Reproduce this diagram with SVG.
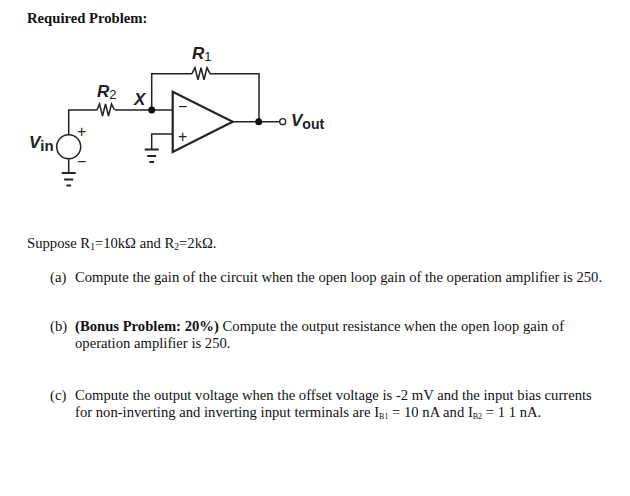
<svg xmlns="http://www.w3.org/2000/svg" width="630" height="496" viewBox="0 0 630 496">
<style>
.t{font-family:"Liberation Serif","Times New Roman",serif;font-size:14.67px;fill:#111}
.b{font-weight:bold}
.s{font-size:9.500px}
.s2{font-size:8px}
.w{fill:none;stroke:#222;stroke-width:1.500}
.o{fill:none;stroke:#222;stroke-width:2.200}
.d{fill:#111}
.l{font-family:"Liberation Sans",Arial,sans-serif;font-size:17px;fill:#222;font-weight:bold}
.i{font-style:italic}
.m{font-family:"Liberation Sans",Arial,sans-serif;font-size:16px;fill:#222}
.g{stroke:#222;stroke-width:2.200;fill:none}
</style>
<defs>
<g id="gnd"><path class="g" d="M-7 0H7M-4.500 6.500H4.500M-2.300 12.500H2.300"/></g>
</defs>
<rect width="630" height="496" fill="#fff"/>
<g id="connectors">
<path class="w" d="M68.700 134.500V110H97M115 110H172.700M151.700 110V73.700H192M210 73.700H259V121.700M232.700 121.700H279.700M172.700 134H151.700V149M68.700 158.700V173"/>
<path class="w" d="M97 110l2.500-6 3 12 3-12 3 12 3-12 3 6"/>
<path class="w" d="M192 73.700l3-6 3 12 3-12 3 12 3-12 3 6"/>
</g>
<g id="opamp"><path class="o" d="M172.700 91.700V152L232.700 121.700Z"/>
<text class="m" x="178" y="112">−</text><text class="m" x="178" y="142">+</text></g>
<g id="node-x"><circle class="d" cx="151.700" cy="110" r="3.500"/><text class="l i" x="134" y="105">X</text></g>
<g id="node-out"><circle class="d" cx="258.700" cy="121.700" r="3.500"/><circle cx="282.700" cy="121.700" r="3" fill="#fff" stroke="#222" stroke-width="1.300"/></g>
<g id="r1"><text class="l i" x="192" y="59">R<tspan font-size="13" dy="2" font-style="normal" font-weight="normal">1</tspan></text></g>
<g id="r2"><text class="l i" x="97" y="97">R<tspan font-size="13" dy="2" font-style="normal" font-weight="normal">2</tspan></text></g>
<g id="vin"><circle cx="68.700" cy="146.700" r="12" fill="none" stroke="#222" stroke-width="1.500"/>
<text class="m" x="77" y="137">+</text><text class="m" x="77" y="167">−</text>
<text class="l i" x="29" y="148">V<tspan font-size="15" font-style="normal" dy="3">in</tspan></text></g>
<g id="gnd1"><use href="#gnd" x="151.700" y="149.500"/></g>
<g id="gnd2"><use href="#gnd" x="68.700" y="173"/></g>
<g id="vout"><text class="l i" x="291" y="126">V<tspan font-size="14" font-style="normal" dy="3">out</tspan></text></g>
<g id="text">
<text class="t b" x="27" y="23">Required Problem:</text>
<text class="t" x="27" y="248">Suppose R<tspan class="s" dy="2">1</tspan><tspan dy="-2">=10kΩ and R</tspan><tspan class="s" dy="2">2</tspan><tspan dy="-2">=2kΩ.</tspan></text>
<text class="t" x="50" y="282">(a)</text>
<text class="t" x="75" y="282">Compute the gain of the circuit when the open loop gain of the operation amplifier is 250.</text>
<text class="t" x="50" y="331">(b)</text>
<text class="t" x="75" y="331"><tspan class="b">(Bonus Problem: 20%)</tspan> Compute the output resistance when the open loop gain of</text>
<text class="t" x="75" y="348">operation amplifier is 250.</text>
<text class="t" x="50" y="400">(c)</text>
<text class="t" x="75" y="400">Compute the output voltage when the offset voltage is -2 mV and the input bias currents</text>
<text class="t" x="75" y="417">for non-inverting and inverting input terminals are I<tspan class="s2" dy="2">B1</tspan><tspan dy="-2"> = 10 nA and I</tspan><tspan class="s2" dy="2">B2</tspan><tspan dy="-2"> = 1 1 nA.</tspan></text>
</g>
</svg>
